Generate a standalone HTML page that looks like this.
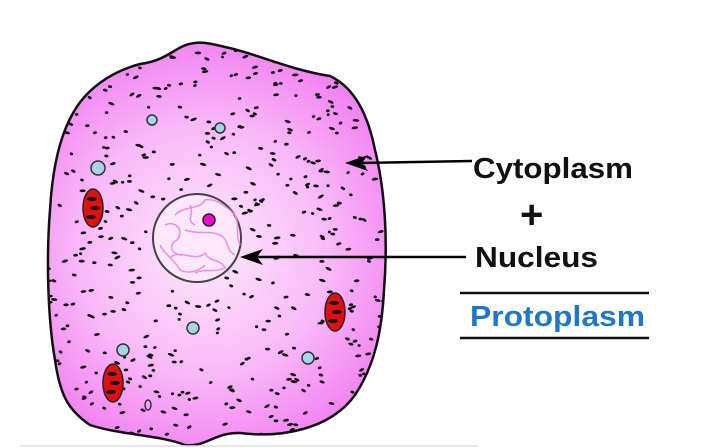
<!DOCTYPE html>
<html><head><style>
html,body{margin:0;padding:0;background:#fff;}
svg{display:block}
text{font-family:"Liberation Sans",sans-serif;font-weight:bold;}
</style></head><body>
<svg id="s" width="718" height="448" viewBox="0 0 718 448" xmlns="http://www.w3.org/2000/svg">
<defs>
<radialGradient id="g" cx="205" cy="250" r="210" gradientUnits="userSpaceOnUse">
<stop offset="0" stop-color="#fdeafd"/><stop offset="0.6" stop-color="#f9b8f8"/><stop offset="1" stop-color="#f283f2"/>
</radialGradient>
<clipPath id="c"><path id="cp" d="M195,43 C175,45 170,60 140,64 C110,72 85,90 72,115 C58,140 52,175 50,210 C46,260 48,320 55,360 C60,395 68,410 90,425 C120,435 160,435 185,445 C205,448 215,432 240,433 C280,438 330,430 355,395 C375,365 382,330 384,290 C388,240 385,190 375,150 C368,115 355,88 330,76 C290,70 255,53 225,47 C210,43 200,42 195,43 Z"/></clipPath>
</defs>
<use href="#cp" fill="url(#g)"/>
<g id="dots" clip-path="url(#c)"></g>
<use href="#cp" fill="none" stroke="#111" stroke-width="2.5"/>
<g stroke="#333" stroke-width="1.5" fill="#a9d3e6">
<circle cx="152" cy="120" r="5"/><circle cx="220" cy="128" r="5"/><circle cx="98" cy="168" r="7"/>
<circle cx="193" cy="328" r="6"/><circle cx="123" cy="350" r="6"/><circle cx="308" cy="358" r="6"/>
</g>
<g stroke="#222" stroke-width="1.5" fill="#e01010">
<ellipse cx="93" cy="208" rx="10" ry="19"/><ellipse cx="335" cy="312" rx="10" ry="19"/><ellipse cx="113" cy="383" rx="10" ry="19"/>
</g>
<g fill="#111">
<ellipse cx="92" cy="199" rx="5" ry="2"/><ellipse cx="95" cy="208" rx="5" ry="2"/><ellipse cx="91" cy="217" rx="5" ry="2"/>
<ellipse cx="334" cy="303" rx="5" ry="2"/><ellipse cx="337" cy="312" rx="5" ry="2"/><ellipse cx="333" cy="321" rx="5" ry="2"/>
<ellipse cx="112" cy="374" rx="5" ry="2"/><ellipse cx="115" cy="383" rx="5" ry="2"/><ellipse cx="111" cy="392" rx="5" ry="2"/>
</g>
<ellipse cx="148" cy="405" rx="3" ry="5" fill="none" stroke="#222" stroke-width="1.3"/>
<circle cx="197" cy="238" r="44" fill="#fde7fb" stroke="#444" stroke-width="2"/>
<g fill="none" stroke="#f08ae8" stroke-width="1.5">
<path d="M175,215 c10,-10 25,-5 30,-15 c10,-2 20,5 30,15 c5,10 0,20 5,30"/>
<path d="M165,225 c10,-5 20,5 12,15 c-10,5 -5,15 5,15"/>
<path d="M185,230 c15,5 25,0 35,5 c10,5 5,15 15,20"/>
<path d="M170,258 c10,-10 25,5 35,-5 c5,10 15,5 20,15 c-10,5 -20,0 -30,5"/>
<path d="M160,245 c5,10 15,15 20,25 c10,5 20,0 25,-5"/>
<path d="M190,205 c5,8 -5,15 5,20"/>
</g>
<circle cx="209" cy="220" r="6" fill="#ff00d0" stroke="#222" stroke-width="1.5"/>
<line x1="472" y1="161" x2="360" y2="163" stroke="#000" stroke-width="2.5"/>
<polygon points="345,163 368,155 362,163 368,171" fill="#000"/>
<line x1="466" y1="257" x2="255" y2="257" stroke="#000" stroke-width="2.5"/>
<polygon points="240,257 263,249 257,257 263,265" fill="#000"/>
<text x="473" y="178" font-size="29" fill="#111" textLength="160" lengthAdjust="spacingAndGlyphs">Cytoplasm</text>
<text x="520" y="228" font-size="40" fill="#111">+</text>
<text x="475" y="267" font-size="29" fill="#111" textLength="123" lengthAdjust="spacingAndGlyphs">Nucleus</text>
<line x1="460" y1="293" x2="649" y2="293" stroke="#111" stroke-width="2.5"/>
<text x="470" y="326" font-size="29" fill="#1f77c9" textLength="175" lengthAdjust="spacingAndGlyphs">Protoplasm</text>
<line x1="460" y1="338" x2="649" y2="338" stroke="#111" stroke-width="2.5"/>
<line x1="20" y1="446" x2="478" y2="446" stroke="#ddd" stroke-width="1.5"/>
</svg>
<script>
var g=document.getElementById('dots'),s=12345;
function r(){s=(s*1103515245+12345)%2147483648;return s/2147483648;}
var h='';
for(var i=0;i<560;i++){var x=45+r()*345,y=40+r()*410;
var dx=x-197,dy=y-238;if(dx*dx+dy*dy<48*48)continue;
var w=1.6+r()*1.8,a=(r()*60-30).toFixed(0);
h+='<ellipse cx="'+x.toFixed(1)+'" cy="'+y.toFixed(1)+'" rx="'+w.toFixed(1)+'" ry="1.4" fill="#111" transform="rotate('+a+' '+x.toFixed(1)+' '+y.toFixed(1)+')"/>';}
g.innerHTML=h;
</script>
</body></html>
